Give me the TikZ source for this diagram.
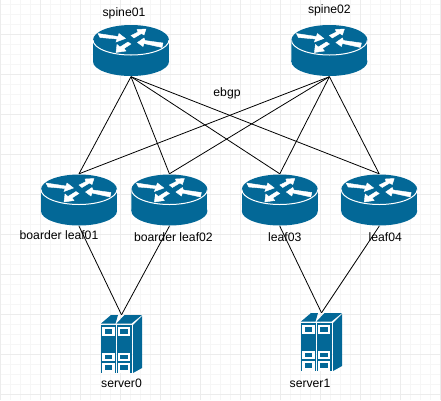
\documentclass[tikz,border=0pt]{standalone}
\usepackage{fontspec}
\setmainfont{Liberation Sans}
\usetikzlibrary{positioning}
\definecolor{netblue}{HTML}{036897}
\definecolor{gridminor}{HTML}{F6F6F6}
\definecolor{gridmajor}{HTML}{ECECEC}

\newcommand{\routericon}{
    \fill[netblue] (-38,-10.5) rectangle (38,11);
    \fill[netblue] (0,-10.5) ellipse [x radius=38pt, y radius=15pt];
    \fill[netblue] (0,11) ellipse [x radius=38pt, y radius=14.5pt];
    \draw[white, line width=1pt] (-38,-10.5) arc [start angle=180, end angle=360, x radius=38pt, y radius=15pt];
    \filldraw[white, line width=0.4pt] (-33,-17) -- (-13,-14) -- (-12,-17) -- (-5.5,-12) -- (-15,-8.5) -- (-14,-11.5) -- (-31,-13) -- cycle;
    \filldraw[white, line width=0.4pt] (0,-15) -- (7,-18.5) -- (6,-21) -- (15,-21.5) -- (13,-15.5) -- (10.5,-17) -- (3,-12.5) -- cycle;
    \filldraw[white, line width=0.4pt] (-3,-8.5) -- (0,-6.5) -- (-7,-2) -- (-5,0.5) -- (-15,2) -- (-14,-6) -- (-11,-3.5) -- cycle;
    \filldraw[white, line width=0.4pt] (32,-7.5) -- (31,-3) -- (13,-7) -- (12,-4) -- (6.5,-8) -- (13,-12.5) -- (14,-10) -- cycle;
}
\newcommand{\servericon}{
    \fill[netblue] (-20.5,-20.5) -- (-10.5,-29) -- (-3.5,-29) -- (-6,-20.5) -- cycle;
    \fill[netblue] (-5,-20.5) -- (3,-29) -- (20.5,-29) -- (10,-20.5) -- cycle;
    \fill[netblue] (11.5,-19) -- (20.5,-28) -- (20.5,24) -- (11.5,29) -- cycle;
    \foreach \c in {-20.5,-5} {
        \fill[netblue] (\c,-19.5) rectangle ++(15,48.5);
        \foreach \t/\b in {-17/-8, 9/17, 19/28.5} {
            \fill[white] (\c+1,\t) rectangle (\c+13.5,\b);
            \fill[netblue] (\c+3.5,\t+2.2) rectangle (\c+11,\b-2.2);
        }
    }
}

\begin{document}
\begin{tikzpicture}[
    x=1pt, y=-1pt,
    node distance=14pt,
    router/.style={
        minimum width=76pt,
        minimum height=52pt,
        inner sep=0pt,
        path picture={
            \begin{scope}[shift={(path picture bounding box.center)}]
                \routericon
            \end{scope}
        }
    },
    server/.style={
        minimum width=41pt,
        minimum height=58pt,
        inner sep=0pt,
        path picture={
            \begin{scope}[shift={(path picture bounding box.center)}]
                \servericon
            \end{scope}
        }
    },
    devlabel/.style={
        inner sep=0pt,
        text height=9pt,
        text depth=3pt,
        font=\fontsize{12.2pt}{12.2pt}\selectfont
    },
    link/.style={draw=black, line width=0.8pt}
]
\useasboundingbox (0,0) rectangle (441,400);

\foreach \gx in {0.5,10.5,...,440.5}
    \draw[gridminor, line width=1pt] (\gx,0) -- (\gx,400);
\foreach \gy in {4.5,14.5,...,394.5}
    \draw[gridminor, line width=1pt] (0,\gy) -- (441,\gy);
\foreach \gx in {0.5,40.5,...,440.5}
    \draw[gridmajor, line width=1pt] (\gx,0) -- (\gx,400);
\foreach \gy in {34.5,74.5,...,394.5}
    \draw[gridmajor, line width=1pt] (0,\gy) -- (441,\gy);

\node[router] (spine01) at (131,50.5) {};
\node[router, right=122pt of spine01] (spine02) {};
\node[router] (leaf01) at (79,200) {};
\node[router, right=of leaf01] (leaf02) {};
\node[router, right=34pt of leaf02] (leaf03) {};
\node[router, right=23pt of leaf03] (leaf04) {};
\node[server] (server0) at (121.5,344) {};
\node[server] (server1) at (321.5,342) {};

\foreach \spine in {spine01,spine02}
    \foreach \leaf in {leaf01,leaf02,leaf03,leaf04}
        \draw[link] (\spine.south) -- (\leaf.north);
\draw[link] (leaf01.south) -- (server0.north);
\draw[link] (leaf02.south) -- (server0.north);
\draw[link] (leaf03.south) -- (server1.north);
\draw[link] (leaf04.south) -- (server1.north);

\node[devlabel, above=5pt of spine01, xshift=-7pt] (spine01label) {spine01};
\node[devlabel, above=7.5pt of spine02] (spine02label) {spine02};
\node[devlabel] (ebgplabel) at (227,93.7) {ebgp};
\node[devlabel, below=4pt of leaf01, xshift=-20pt] (leaf01label) {boarder leaf01};
\node[devlabel, below=6pt of leaf02, xshift=4pt] (leaf02label) {boarder leaf02};
\node[devlabel, below=6pt of leaf03, xshift=5pt] (leaf03label) {leaf03};
\node[devlabel, below=6pt of leaf04, xshift=6pt] (leaf04label) {leaf04};
\node[devlabel, below=4.7pt of server0] (server0label) {server0};
\node[devlabel, below=7pt of server1, xshift=-11.5pt] (server1label) {server1};
\end{tikzpicture}
\end{document}
